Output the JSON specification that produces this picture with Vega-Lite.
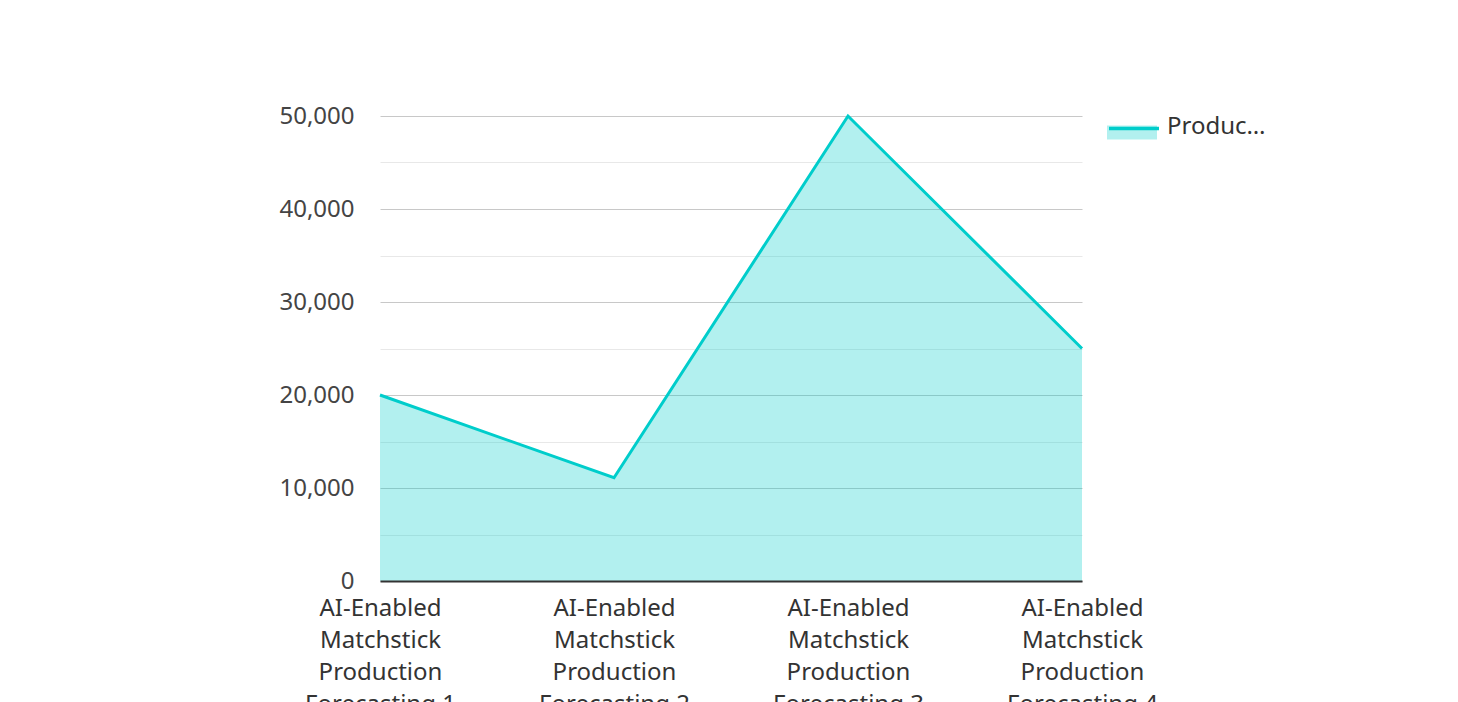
{
  "$schema": "https://vega.github.io/schema/vega-lite/v6.json",
  "width": 702,
  "height": 465,
  "autosize": {"type": "none"},
  "padding": {"left": 380, "top": 116, "right": 376, "bottom": 121},
  "background": "white",
  "config": {
    "view": {"stroke": null},
    "font": "Noto Sans",
    "axis": {"labelFont": "Noto Sans", "labelFontSize": 24, "labelColor": "#444444", "title": null}
  },
  "data": {
    "values": [
      {"category": "AI-Enabled Matchstick Production Forecasting 1", "value": 20000, "series": "Production"},
      {"category": "AI-Enabled Matchstick Production Forecasting 2", "value": 11100, "series": "Production"},
      {"category": "AI-Enabled Matchstick Production Forecasting 3", "value": 50000, "series": "Production"},
      {"category": "AI-Enabled Matchstick Production Forecasting 4", "value": 25000, "series": "Production"}
    ]
  },
  "encoding": {
    "x": {
      "field": "category",
      "type": "nominal",
      "sort": null,
      "scale": {"type": "point", "padding": 0},
      "axis": {
        "labelAngle": 0,
        "labelExpr": "[split(datum.label,' ')[0], split(datum.label,' ')[1], split(datum.label,' ')[2], split(datum.label,' ')[3] + ' ' + split(datum.label,' ')[4]]",
        "labelLineHeight": 32,
        "labelPadding": 15,
        "labelColor": "#333333",
        "labelLimit": 0,
        "labelOverlap": false,
        "ticks": false,
        "grid": false,
        "domainColor": "#333333",
        "domainWidth": 2,
        "zindex": 1
      }
    }
  },
  "layer": [
    {
      "mark": {"type": "area", "opacity": 0.3},
      "encoding": {
        "y": {
          "field": "value",
          "type": "quantitative",
          "scale": {"domain": [0, 50000], "nice": false},
          "axis": {
            "orient": "left",
            "values": [0, 10000, 20000, 30000, 40000, 50000],
            "labelExpr": "format(datum.value, ',')",
            "grid": true,
            "gridColor": "#c8c8c8",
            "gridWidth": 1,
            "domain": false,
            "ticks": false,
            "labelPadding": 26,
            "zindex": 0
          }
        },
        "fill": {
          "field": "series",
          "type": "nominal",
          "scale": {"range": ["#00CDCB"]},
          "legend": {
            "orient": "none",
            "legendX": 727,
            "legendY": -14,
            "title": null,
            "symbolType": "M-1,-0.06H1V0.5H-1Z",
            "symbolSize": 2500,
            "symbolOpacity": 0.3,
            "symbolStrokeWidth": 0,
            "labelFontSize": 24,
            "labelColor": "#333333",
            "labelOffset": 10,
            "labelLimit": 104
          }
        }
      }
    },
    {
      "mark": {"type": "line", "strokeWidth": 3},
      "encoding": {
        "y": {
          "field": "value",
          "type": "quantitative",
          "axis": {
            "orient": "left",
            "values": [5000, 15000, 25000, 35000, 45000],
            "grid": true,
            "gridColor": "#e8e8e8",
            "gridWidth": 1,
            "labels": false,
            "domain": false,
            "ticks": false,
            "zindex": 0
          }
        },
        "stroke": {
          "field": "series",
          "type": "nominal",
          "scale": {"domain": ["Production"], "range": ["#00CDCB"]},
          "legend": {
            "orient": "none",
            "legendX": 727,
            "legendY": -14,
            "title": null,
            "symbolType": "M-1,-0.02H1",
            "symbolSize": 2500,
            "symbolStrokeWidth": 3.5,
            "labelExpr": "''",
            "labelFontSize": 24,
            "labelOffset": 10
          }
        }
      }
    }
  ],
  "resolve": {"axis": {"y": "independent"}}
}
